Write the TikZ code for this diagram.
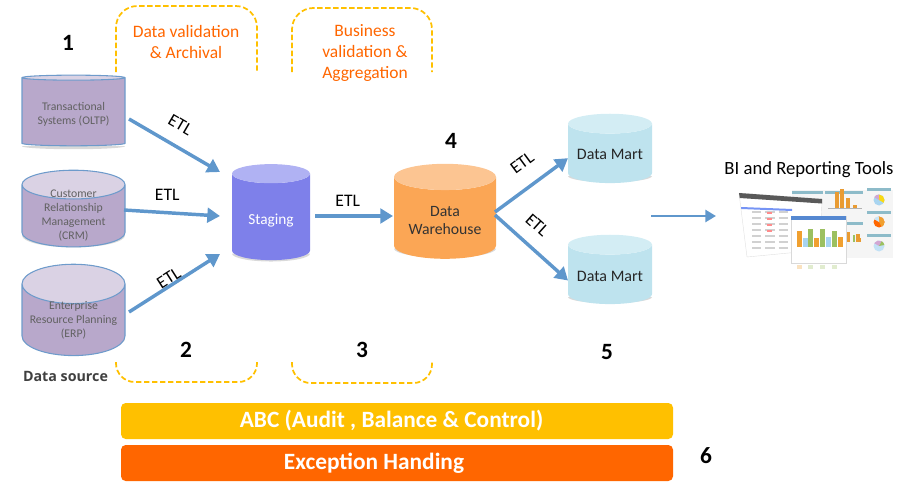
\documentclass[tikz,border=0pt]{standalone}
\usepackage{fontspec}
\setmainfont{Carlito}
\newfontfamily\srcfont{Open Sans}
\usepackage{xcolor}
\usepackage{tikz}
\usetikzlibrary{arrows.meta,shapes.geometric,backgrounds}
\definecolor{flowblue}{HTML}{5F97CC}
\definecolor{dashyellow}{HTML}{FFC000}
\definecolor{hotorange}{HTML}{FF6600}
\definecolor{srcbody}{HTML}{B8A8CB}
\definecolor{srctop}{HTML}{DAD2E4}
\definecolor{srcline}{HTML}{6E9BCB}
\definecolor{stagebody}{HTML}{7E80EA}
\definecolor{stagetop}{HTML}{B0B2F3}
\definecolor{whbody}{HTML}{FBA655}
\definecolor{whtop}{HTML}{FCC592}
\definecolor{martbody}{HTML}{BEE3EE}
\definecolor{marttop}{HTML}{D3EDF4}
\definecolor{panelhead}{HTML}{8DBBC9}
\definecolor{chartorange}{HTML}{F0A030}
\definecolor{chartgreen}{HTML}{9CC060}
\definecolor{chartblue}{HTML}{A8D4F0}
\newcommand{\DBlines}[2]{\smash{\raisebox{-#1pt}{\begin{tabular}{@{}c@{}}#2\end{tabular}}}}
\tikzset{
	DBnode/.style={shape=cylinder,shape border rotate=90,inner sep=0pt,outer sep=0pt,cylinder uses custom fill},
	SRCnode/.style={DBnode,draw=srcline,line width=.8pt,cylinder body fill=srcbody,cylinder end fill=srctop,minimum width=77.25pt,text=black!62,font=\fontsize{8.8}{10.5}\selectfont},
	STnode/.style={DBnode,cylinder body fill=stagebody,cylinder end fill=stagetop,minimum width=58.5pt,minimum height=72pt,text=white,font=\fontsize{11.5}{13}\selectfont},
	WHnode/.style={DBnode,cylinder body fill=whbody,cylinder end fill=whtop,minimum width=76.5pt,minimum height=71.25pt,text=black!80,font=\fontsize{11.8}{13.5}\selectfont},
	DMnode/.style={DBnode,cylinder body fill=martbody,cylinder end fill=marttop,minimum width=63pt,minimum height=52pt,text=black!85,font=\fontsize{12}{14}\selectfont},
	flow/.style={draw=flowblue,line width=2.6pt,-{Triangle[length=9.5pt,width=11pt]}},
	ETLlabel/.style={font=\fontsize{13.2}{15}\selectfont,inner sep=0pt},
	stepnum/.style={font=\bfseries\fontsize{17.5}{19}\selectfont,inner sep=0pt},
	phase/.style={draw=dashyellow,line width=1.3pt,dash pattern=on 4pt off 2pt,rounded corners=16pt},
	phasetext/.style={text=hotorange,align=center,inner sep=0pt,font=\fontsize{13.1}{15.75}\selectfont},
	bar/.style={shape=rectangle,rounded corners=3.5pt,minimum width=414pt,minimum height=27pt,inner sep=0pt,text=white,font=\bfseries\fontsize{17.5}{19}\selectfont},
	DBshadow/.style={fill=black!15},
}
\begin{document}
\begin{tikzpicture}[x=0.75pt,y=-0.75pt]
	\useasboundingbox (0,0) rectangle (902,496);
	% dashed phase brackets
	\draw[phase] (116,72) -- (116,6) -- (257,6) -- (257,72);
	\draw[phase] (292,72) -- (292,8) -- (432,8) -- (432,72);
	\draw[phase,rounded corners=14pt] (116,362) -- (116,382) -- (257,382) -- (257,362);
	\draw[phase,rounded corners=14pt] (292,362) -- (292,383) -- (432,383) -- (432,362);
	\node[phasetext] (val) at (186,42) {Data validation\\\& Archival};
	\node[phasetext] (biz) at (365,53) {Business\\validation \&\\Aggregation};
	% stores
	\node[SRCnode,minimum height=53pt,aspect=.07] (oltp) at (73.5,112) {\DBlines{4.1}{Transactional\\Systems (OLTP)}};
	\node[SRCnode,minimum height=57.5pt,aspect=.45] (crm) at (73.5,216) {\DBlines{2.25}{Customer\\Relationship\\Management\\(CRM)}};
	\node[SRCnode,minimum height=68.5pt,aspect=.45] (erp) at (73.5,320) {\DBlines{3}{Enterprise\\Resource Planning\\(ERP)}};
	\node[STnode,aspect=.42] (stg) at (271,217) {\DBlines{6}{Staging}};
	\node[WHnode,aspect=.36] (dw) at (445,218) {\DBlines{6}{Data\\Warehouse}};
	\node[DMnode,aspect=.3] (dm1) at (610,153.5) {\DBlines{4.9}{Data Mart}};
	\node[DMnode,aspect=.3] (dm2) at (610,274.5) {\DBlines{5.65}{Data Mart}};
	\begin{scope}[on background layer]
		\foreach \db/\rx/\ry in {oltp/51.5/3,crm/51.5/12,erp/51.5/12,stg/39/8,dw/51/9,dm1/42/6,dm2/42/6}
			\fill[DBshadow] ([yshift=-2.2pt]\db.after bottom) arc[start angle=180,end angle=0,x radius=\rx,y radius=\ry] -- cycle;
	\end{scope}
	\node[font=\srcfont\bfseries\fontsize{10.7}{12}\selectfont,text=black!75,inner sep=0pt] (srclbl) at (65.5,376) {Data source};
	% numbers
	\node[stepnum] (n1) at (68,43) {1};
	\node[stepnum] (n2) at (186,350) {2};
	\node[stepnum] (n3) at (362,350) {3};
	\node[stepnum] (n4) at (451,141) {4};
	\node[stepnum] (n5) at (607,352) {5};
	\node[stepnum] (n6) at (706,456) {6};
	% arrows
	\draw[flow] ([shift={(4,7)}]oltp.east) -- node[ETLlabel,sloped,above=10pt,pos=.45]{ETL} ([shift={(-12,-45)}]stg.west);
	\draw[flow] ([shift={(-1,-6)}]crm.east) -- node[ETLlabel,above=8pt,pos=.45]{ETL} ([shift={(-12,-1)}]stg.west);
	\draw[flow] ([shift={(4,-8)}]erp.east) -- node[ETLlabel,sloped,above=0pt,pos=.48]{ETL} ([shift={(-12,37)}]stg.west);
	\draw[flow] ([shift={(5,-1)}]stg.east) -- node[ETLlabel,above=6pt,pos=.42]{ETL} ([shift={(-1,-2)}]dw.west);
	\draw[flow] ([shift={(-1,-6)}]dw.east) -- node[ETLlabel,sloped,above=11.9pt,pos=.56]{ETL} ([yshift=-3.5]dm1.west);
	\draw[flow] ([shift={(-1,-3)}]dw.east) -- node[ETLlabel,sloped,above=9.9pt,pos=.39]{ETL} ([yshift=-4.5]dm2.west);
	% bars
	\node[bar,fill=dashyellow] (abc) at (397,421) {\hspace*{-8.3pt}ABC (Audit , Balance \& Control)};
	\node[bar,fill=hotorange] (exc) at (397,463) {\hspace*{-34.5pt}Exception Handing};
	% reporting tools
	\node[font=\fontsize{14}{16}\selectfont,inner sep=0pt] (bi) at (809,170) {BI and Reporting Tools};
	\coordinate (biout) at (651,216);
	\coordinate (biin) at (716,216);
	\draw[flow,line width=2.2pt,-{Triangle[length=8pt,width=9pt]}] (biout) -- (biin);
	% back sheet with charts
	\fill[black!4] (792,190) rectangle (893,258);
	\foreach \px/\py/\pw in {792/191/31,825/191/38,867/188/24,867/211/24,867/234/24,825/222/38}
		\fill[panelhead] (\px,\py) rectangle ++(\pw,3);
	\foreach \bx/\bh in {835/16,840/19,846/10,853/3}
		\fill[chartorange!85!brown] (\bx,208) rectangle ++(3.5,-\bh);
	\draw[black!30,line width=.3pt] (828,208) -- (862,208);
	\foreach \bx/\bh in {846/10,856/8,857/4}
		\fill[chartorange!85!brown] (\bx,242) rectangle ++(3.5,-\bh);
	\fill[chartgreen] (853,242) rectangle ++(2,-7);
	% pies
	\fill[chartblue] (879,200) circle (5.5);
	\fill[chartorange!40!yellow] (879,200) -- (879,194.5) arc (-90:30:5.5) -- cycle;
	\fill[violet!35] (879,200) -- (874.2,197.2) arc (210:270:5.5) -- cycle;
	\fill[hotorange] (879,222) circle (5.5);
	\fill[chartorange] (879,222) -- (879,216.5) arc (-90:60:5.5) -- cycle;
	\fill[chartblue!60] (879,222) -- (874.2,219.2) arc (210:270:5.5) -- cycle;
	\fill[chartblue!70] (879,246) circle (5.5);
	\fill[violet!35] (879,246) -- (874.2,243.2) arc (210:300:5.5) -- cycle;
	\fill[chartgreen] (879,246) -- (881.7,241.2) arc (300:350:5.5) -- cycle;
	% table sheet
	\fill[white,draw=black!12,line width=.3pt] (739,193) -- (822,199) -- (820,250) -- (747,257) -- cycle;
	\fill[black!65] (739,193) -- (822,199) -- (822,203.5) -- (739.7,198) -- cycle;
	\foreach \ry in {212,218,224,230,236,242,248}
		\draw[black!18,line width=1.2pt,dash pattern=on 7pt off 3pt] (752,\ry) -- (790,\ry);
	\foreach \ry in {213,219,225,231}
		\draw[red!45,line width=.9pt] (767,\ry) -- (772,\ry);
	\fill[chartblue!70!blue] (741,207) -- (792,209) -- (792,211) -- (741.3,209) -- cycle;
	% front chart
	\fill[white,draw=black!15,line width=.3pt] (791,216) rectangle (846,263);
	\fill[flowblue!90!blue] (791,216) rectangle (846,219.5);
	\foreach \bx/\bh/\bc in {797/16/chartorange,803/9/chartblue,808/18/chartgreen,814/9/chartorange,820/18/chartgreen,826/10/chartblue,832/16/chartgreen,838/10/chartorange}
		\fill[\bc] (\bx,247) rectangle ++(5,-\bh);
	\foreach \bx/\bc in {797/chartorange,808/chartgreen,820/chartgreen,832/chartgreen}
		\fill[\bc,opacity=.3] (\bx,265) rectangle ++(5,4);
\end{tikzpicture}
\end{document}
